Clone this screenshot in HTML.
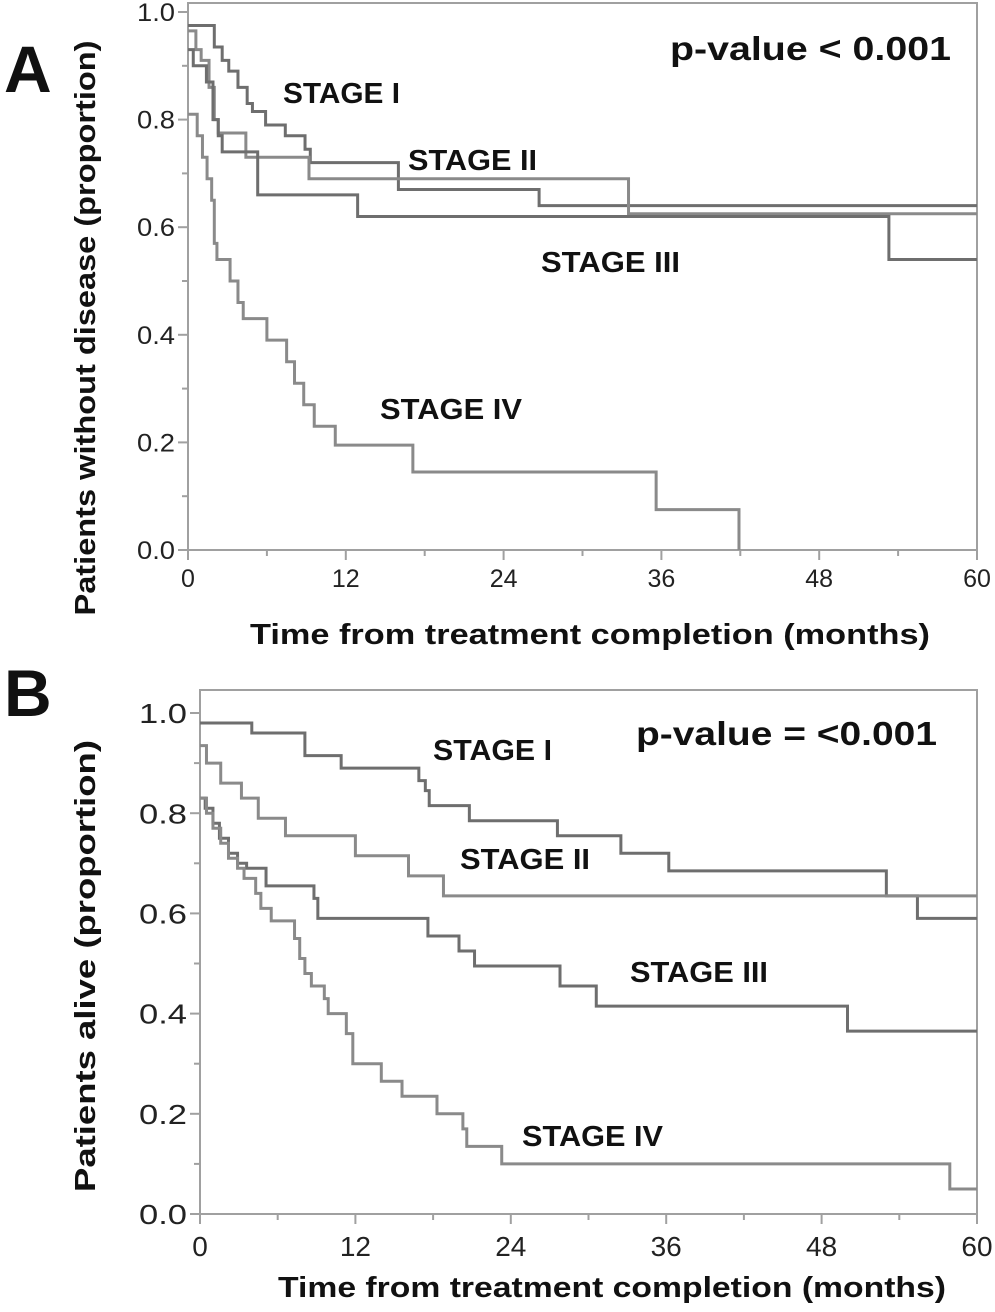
<!DOCTYPE html>
<html><head><meta charset="utf-8"><style>
html,body{margin:0;padding:0;background:#fff;}
svg{display:block;}
text{font-family:"Liberation Sans",sans-serif;}
</style></head><body>
<svg id="chart" width="995" height="1312" viewBox="0 0 995 1312">
<g id="pa"></g>
<g id="pb"></g>
</svg>
<script>
const ticksX = [0,12,24,36,48,60];
const tickLabelsX = ["0","12","24","36","48","60"];
const ticksY = [0,0.2,0.4,0.6,0.8,1.0];
const tickLabelsY = ["0.0","0.2","0.4","0.6","0.8","1.0"];
const stageNames = ["STAGE I","STAGE II","STAGE III","STAGE IV"];

// Panel A: disease-free proportion
const aI_t = [0,2.0,2.6,3.1,3.8,4.5,4.9,5.9,7.4,8.9,9.3,16,26.7];
const aI_v = [0.975,0.935,0.91,0.89,0.86,0.83,0.815,0.79,0.77,0.745,0.72,0.67,0.64];
const aII_t = [0,0.6,1.0,1.6,2.0,2.3,4.4,9.2,33.5];
const aII_v = [0.965,0.93,0.91,0.86,0.80,0.775,0.73,0.69,0.625];
const aIII_t = [0,0.4,1.4,1.9,2.3,2.6,5.3,12.9,53.3];
const aIII_v = [0.93,0.90,0.87,0.80,0.77,0.74,0.66,0.62,0.54];
const aIV_t = [0,0.7,1.1,1.45,1.8,2.0,2.2,3.2,3.8,4.2,6.0,7.5,8.1,8.8,9.6,11.2,17.1,35.6,41.9];
const aIV_v = [0.81,0.77,0.73,0.69,0.65,0.57,0.54,0.50,0.46,0.43,0.39,0.35,0.31,0.27,0.23,0.195,0.145,0.075,0];
const aEnd = [60,60,60,41.9];

// Panel B: overall survival
const bI_t = [0,4.0,8.1,10.9,16.9,17.4,17.7,20.8,27.6,32.5,36.2,53.0,55.4];
const bI_v = [0.98,0.96,0.915,0.89,0.865,0.845,0.815,0.785,0.755,0.72,0.685,0.635,0.59];
const bII_t = [0,0.5,1.6,3.2,4.5,6.6,12.0,16.1,18.8];
const bII_v = [0.935,0.90,0.86,0.83,0.79,0.755,0.715,0.675,0.635];
const bIII_t = [0,0.4,1.0,1.5,2.2,2.9,3.6,5.1,8.8,9.1,17.6,20.0,21.2,27.8,30.6,50.0];
const bIII_v = [0.83,0.81,0.78,0.75,0.72,0.70,0.69,0.655,0.63,0.59,0.555,0.525,0.495,0.455,0.415,0.365];
const bIV_t = [0,0.5,1.0,1.6,2.2,2.9,3.4,4.3,4.7,5.5,7.3,7.7,8.1,8.6,9.6,9.9,11.3,11.8,14.0,15.6,18.3,20.3,20.6,23.3,57.9];
const bIV_v = [0.83,0.80,0.77,0.74,0.71,0.69,0.67,0.64,0.61,0.585,0.55,0.51,0.48,0.455,0.43,0.40,0.36,0.30,0.265,0.235,0.20,0.17,0.135,0.10,0.05];
const bEnd = [60,60,60,60];

const NS="http://www.w3.org/2000/svg";
function mk(parent,tag,attrs,txt){const e=document.createElementNS(NS,tag);for(const k in attrs)e.setAttribute(k,attrs[k]);if(txt!==undefined)e.textContent=txt;parent.appendChild(e);return e;}

function panel(g,cfg,series,ends,labels){
  const sx=t=>cfg.x0+(t/60)*(cfg.x1-cfg.x0);
  const sy=v=>cfg.y0-v*(cfg.y0-cfg.y1);
  const frame=mk(g,'rect',{x:cfg.x0,y:cfg.top,width:cfg.x1-cfg.x0,height:cfg.y0-cfg.top,fill:'none',stroke:'#a0a0a0','stroke-width':2});
  
  
  for(let m=0;m<=60;m+=6){
    const t=mk(g,'line',{x1:sx(m),x2:sx(m),y1:cfg.y0,y2:cfg.y0+(m%12===0?10:6),stroke:'#a0a0a0','stroke-width':2});
    
    
  }
  for(let i=0;i<=10;i++){
    const v=i/10;
    const t=mk(g,'line',{x1:cfg.x0-(i%2===0?10:6),x2:cfg.x0,y1:sy(v),y2:sy(v),stroke:'#a0a0a0','stroke-width':2});
    
    
  }
  ticksX.forEach((m,i)=>{
    const l=mk(g,'text',{x:sx(m),y:cfg.y0+cfg.xlabOff,'text-anchor':'middle','font-size':cfg.tfs,fill:'#222'},tickLabelsX[i]);
    
    
  });
  ticksY.forEach((v,i)=>{
    const l=mk(g,'text',{x:cfg.x0-13,y:sy(v)+cfg.tfs*0.36,'text-anchor':'end','font-size':cfg.tfs,fill:'#222',textLength:cfg.ylw,lengthAdjust:'spacingAndGlyphs'},tickLabelsY[i]);
    
    
  });
  series.forEach((s,k)=>{
    const [ts,vs]=s;
    let d='M'+sx(ts[0])+','+sy(vs[0]);
    for(let i=1;i<ts.length;i++){d+=' H'+sx(ts[i])+' V'+sy(vs[i]);}
    d+=' H'+sx(ends[k]);
    const p=mk(g,'path',{d:d,fill:'none',stroke:k%2?'#8a8a8a':'#6e6e6e','stroke-width':3,'stroke-linejoin':'miter'});
    
    
  });
  labels.forEach((lb,k)=>{
    const l=mk(g,'text',{x:lb[0],y:lb[1],'font-size':29,'font-weight':'bold',fill:'#111',textLength:lb[2],lengthAdjust:'spacingAndGlyphs'},stageNames[k]);
    
    
  });
}

panel(document.getElementById('pa'),
  {x0:188,x1:977,y0:550,y1:12,top:3,tfs:25,xlabOff:37,ylw:38},
  [[aI_t,aI_v],[aII_t,aII_v],[aIII_t,aIII_v],[aIV_t,aIV_v]],aEnd,
  [[283,103,117],[408,170,129],[541,272,139],[380,419,142]]);
panel(document.getElementById('pb'),
  {x0:200,x1:977,y0:1214,y1:713,top:690,tfs:28,xlabOff:42,ylw:48},
  [[bI_t,bI_v],[bII_t,bII_v],[bIII_t,bIII_v],[bIV_t,bIV_v]],bEnd,
  [[433,760,119],[460,869,130],[630,982,138],[522,1146,141]]);

const svg=document.getElementById('chart');
function txt(attrs,s,name){const e=mk(svg,'text',attrs,s);return e;}
txt({x:4,y:92,'font-size':66,'font-weight':'bold',fill:'#111'},'A','panel-a-letter');
txt({x:4,y:716,'font-size':66,'font-weight':'bold',fill:'#111'},'B','panel-b-letter');
txt({x:670,y:60,'font-size':33,'font-weight':'bold',fill:'#111',textLength:281,lengthAdjust:'spacingAndGlyphs'},'p-value < 0.001','p-value-a');
txt({x:636,y:745,'font-size':33,'font-weight':'bold',fill:'#111',textLength:301,lengthAdjust:'spacingAndGlyphs'},'p-value = <0.001','p-value-b');
txt({x:590,y:644,'font-size':29,'font-weight':'bold',fill:'#111','text-anchor':'middle',textLength:680,lengthAdjust:'spacingAndGlyphs'},'Time from treatment completion (months)','x-axis-title-a');
txt({x:612,y:1297,'font-size':29,'font-weight':'bold',fill:'#111','text-anchor':'middle',textLength:668,lengthAdjust:'spacingAndGlyphs'},'Time from treatment completion (months)','x-axis-title-b');
txt({x:0,y:0,'font-size':29,'font-weight':'bold',fill:'#111','text-anchor':'middle',textLength:575,lengthAdjust:'spacingAndGlyphs',transform:'translate(95,328) rotate(-90)'},'Patients without disease (proportion)','y-axis-title-a');
txt({x:0,y:0,'font-size':29,'font-weight':'bold',fill:'#111','text-anchor':'middle',textLength:452,lengthAdjust:'spacingAndGlyphs',transform:'translate(95,966) rotate(-90)'},'Patients alive  (proportion)','y-axis-title-b');
</script>
</body></html>
